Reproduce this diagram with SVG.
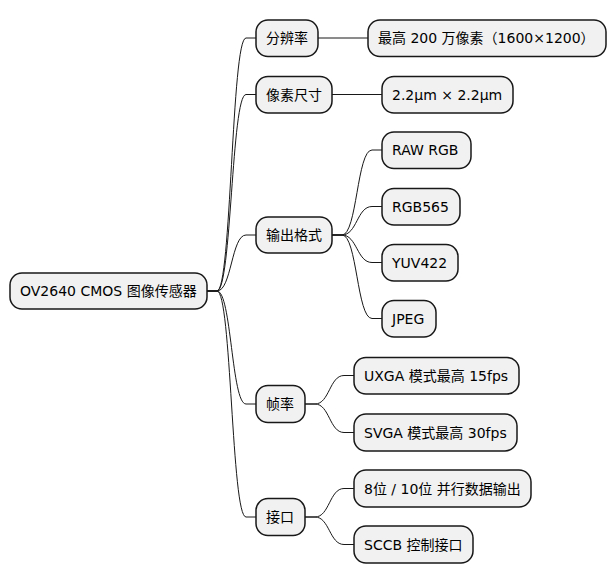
<svg xmlns="http://www.w3.org/2000/svg" width="616" height="583" viewBox="0 0 616 583">
<style>
.n rect{fill:#F1F1F1;stroke:#181818;stroke-width:1.5}
.n text{font-family:"DejaVu Sans","Noto Sans CJK SC",sans-serif;font-size:14px;fill:#000}
.c path{fill:none;stroke:#181818;stroke-width:1}
</style>
<rect width="616" height="583" fill="#fff"/>
<g class="c">
<path d="M207,291 L217,291 C231.5,291 231.5,38 246,38 L256,38"/>
<path d="M207,291 L217,291 C231.5,291 231.5,94.5 246,94.5 L256,94.5"/>
<path d="M207,291 L217,291 C231.5,291 231.5,235 246,235 L256,235"/>
<path d="M207,291 L217,291 C231.5,291 231.5,404 246,404 L256,404"/>
<path d="M207,291 L217,291 C231.5,291 231.5,517 246,517 L256,517"/>
<path d="M318,38 L368,38"/>
<path d="M332,94.5 L382,94.5"/>
<path d="M332,235 L342,235 C357,235 357,150 372,150 L382,150"/>
<path d="M332,235 L342,235 C357,235 357,206.5 372,206.5 L382,206.5"/>
<path d="M332,235 L342,235 C357,235 357,262.5 372,262.5 L382,262.5"/>
<path d="M332,235 L342,235 C357,235 357,318.5 372,318.5 L382,318.5"/>
<path d="M305,404 L315,404 C329.5,404 329.5,375.5 344,375.5 L354,375.5"/>
<path d="M305,404 L315,404 C329.5,404 329.5,432.5 344,432.5 L354,432.5"/>
<path d="M305,517 L315,517 C329.5,517 329.5,488.5 344,488.5 L354,488.5"/>
<path d="M305,517 L315,517 C329.5,517 329.5,544.5 344,544.5 L354,544.5"/>
</g>
<g id="root" class="n"><rect x="10" y="273" width="197" height="36" rx="12"/><text x="20" y="296">OV2640 CMOS 图像传感器</text></g>
<g id="res" class="n"><rect x="256" y="20" width="62" height="36.5" rx="12"/><text x="266" y="43">分辨率</text></g>
<g id="pix" class="n"><rect x="256" y="76.5" width="76" height="36.5" rx="12"/><text x="266" y="99.5">像素尺寸</text></g>
<g id="fmt" class="n"><rect x="256" y="217" width="76" height="36" rx="12"/><text x="266" y="240">输出格式</text></g>
<g id="fps" class="n"><rect x="256" y="385.5" width="49" height="37" rx="12"/><text x="266" y="409">帧率</text></g>
<g id="if" class="n"><rect x="256" y="498.5" width="49" height="37" rx="12"/><text x="266" y="522">接口</text></g>
<g id="res1" class="n"><rect x="368" y="20" width="238" height="36.5" rx="12"/><text x="378" y="43">最高 200 万像素（1600×1200）</text></g>
<g id="pix1" class="n"><rect x="382" y="76.5" width="131" height="36.5" rx="12"/><text x="392" y="99.5">2.2µm × 2.2µm</text></g>
<g id="fmt1" class="n"><rect x="382" y="132" width="89" height="36.5" rx="12"/><text x="392" y="155">RAW RGB</text></g>
<g id="fmt2" class="n"><rect x="382" y="188.5" width="78" height="36.5" rx="12"/><text x="392" y="211.5">RGB565</text></g>
<g id="fmt3" class="n"><rect x="382" y="244.5" width="76" height="36.5" rx="12"/><text x="392" y="267.5">YUV422</text></g>
<g id="fmt4" class="n"><rect x="382" y="300.5" width="54" height="36.5" rx="12"/><text x="392" y="323.5">JPEG</text></g>
<g id="fps1" class="n"><rect x="354" y="357.5" width="165" height="36.5" rx="12"/><text x="364" y="380.5">UXGA 模式最高 15fps</text></g>
<g id="fps2" class="n"><rect x="354" y="414" width="163" height="37" rx="12"/><text x="364" y="437.5">SVGA 模式最高 30fps</text></g>
<g id="if1" class="n"><rect x="354" y="470" width="177" height="37" rx="12"/><text x="364" y="493.5">8位 / 10位 并行数据输出</text></g>
<g id="if2" class="n"><rect x="354" y="526" width="119" height="37" rx="12"/><text x="364" y="549.5">SCCB 控制接口</text></g>
</svg>
